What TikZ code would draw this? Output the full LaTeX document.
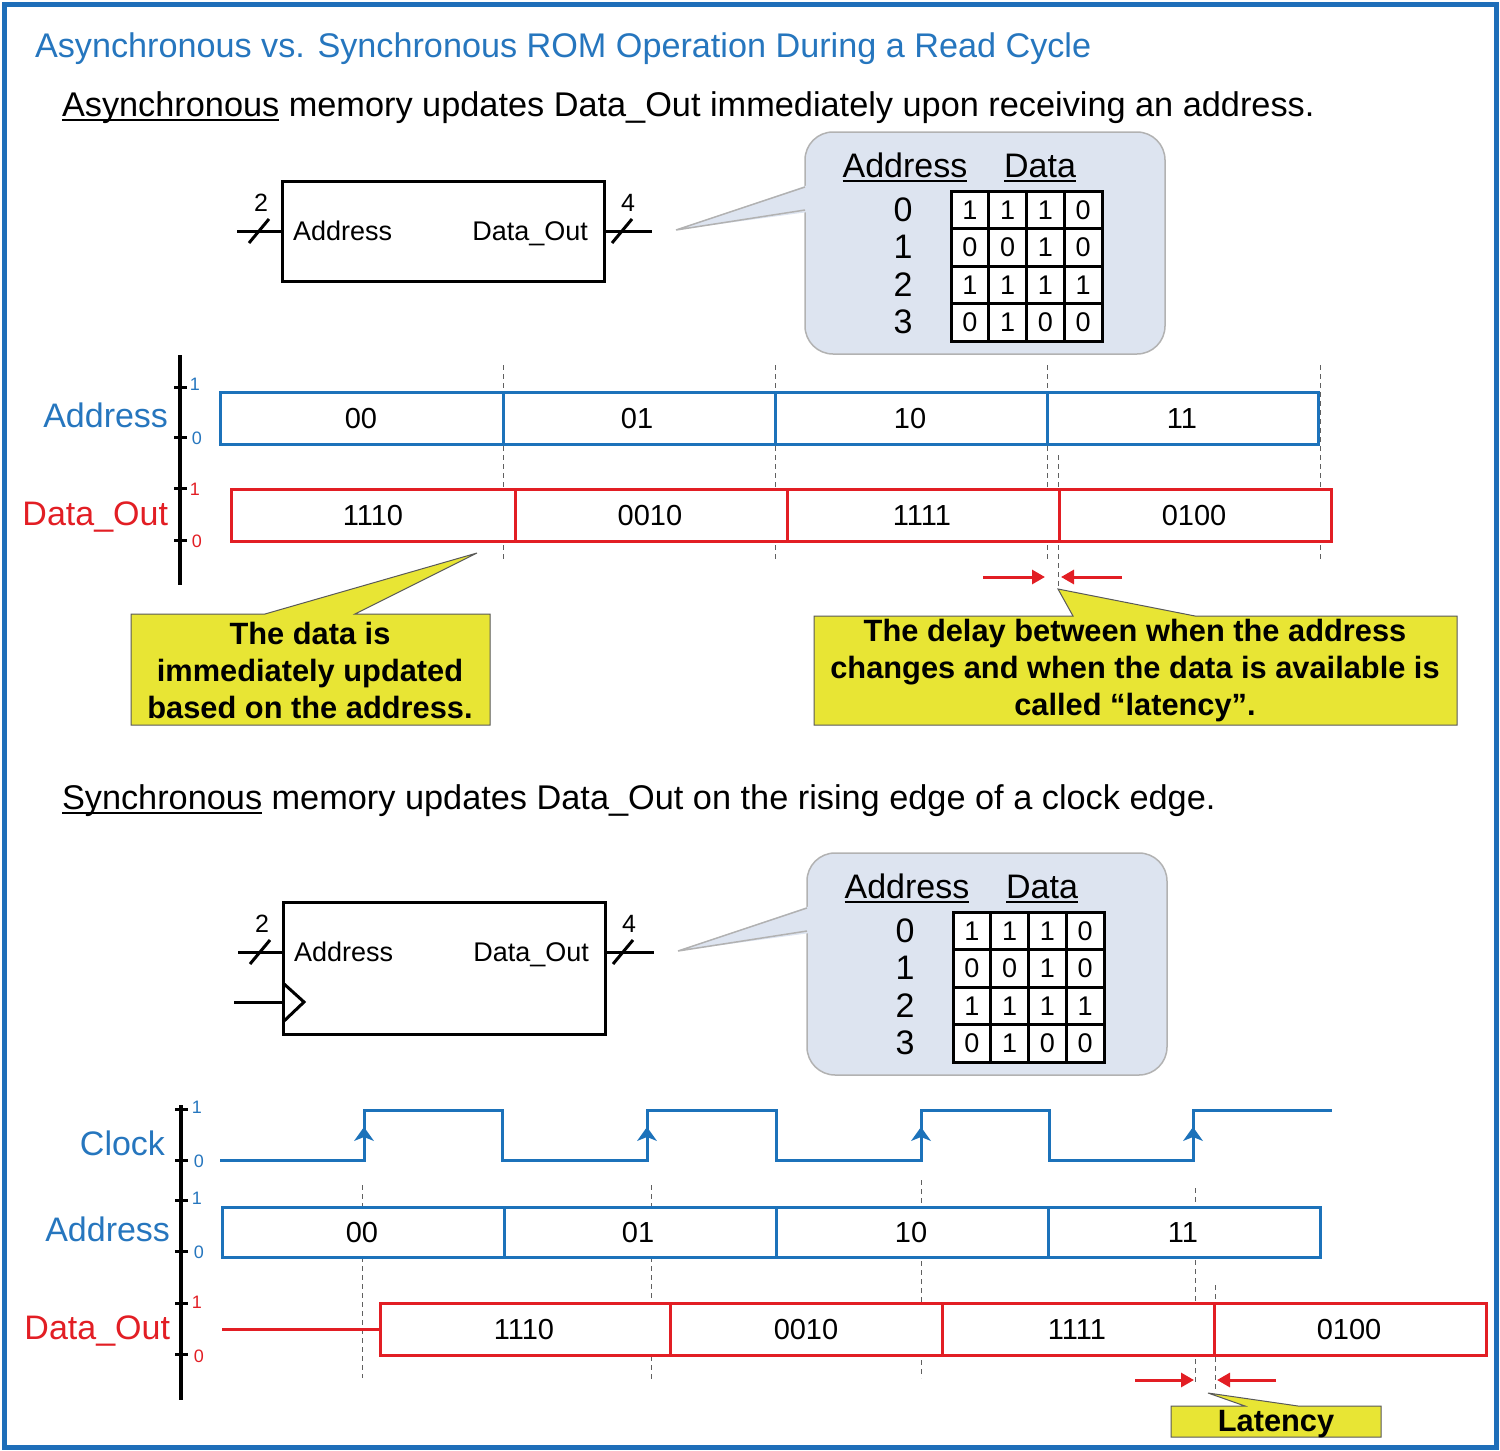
\documentclass[tikz,border=0pt]{standalone}
\usepackage{fontspec}
\setmainfont{Liberation Sans}
\usetikzlibrary{arrows.meta}
\definecolor{tblue}{RGB}{38,118,190}
\definecolor{lblue}{RGB}{28,114,186}
\definecolor{tred}{RGB}{226,30,36}
\definecolor{cyel}{RGB}{232,229,52}
\definecolor{cbub}{RGB}{221,228,240}
\definecolor{frameblue}{RGB}{30,110,185}
\newcommand{\fs}[2]{\fontsize{#1}{#2}\selectfont}
\newcommand{\myul}[1]{\setbox0\hbox{#1}\rlap{\rule[-5pt]{\wd0}{2.2pt}}\box0\relax}
\newcommand{\romtable}[1]{%
  \node[bubble, minimum width=360pt, minimum height=222pt] (bub#1) at (985,243) {};
  \fill[cbub] (676,230) -- (808,185) -- (808,212) -- cycle;
  \draw[draw=gray!60, line width=1.5pt] (805,187) -- (676,230) -- (805,210);
  \node[anchor=base, font=\fs{34}{40}] (hA#1) at (905,177) {\myul{Address}};
  \node[anchor=base, font=\fs{34}{40}] (hD#1) at (1040,177) {\myul{Data}};
  \filldraw[fill=white, line width=3pt] (951,191) rectangle (1102,341);
  \foreach \i in {1,2,3} {
    \draw[line width=3pt] (951+37.75*\i,191) -- (951+37.75*\i,341);
    \draw[line width=3pt] (951,191+37.5*\i) -- (1102,191+37.5*\i);
  }
  \foreach \r/\a/\b/\c/\d in {0/1/1/1/0,1/0/0/1/0,2/1/1/1/1,3/0/1/0/0} {
    \node[font=\fs{34}{40}] (row#1\r) at (903,209.75+37.5*\r) {\r};
    \node[font=\fs{27}{30}] (c#1\r a) at (969.9,209.75+37.5*\r) {\a};
    \node[font=\fs{27}{30}] (c#1\r b) at (1007.6,209.75+37.5*\r) {\b};
    \node[font=\fs{27}{30}] (c#1\r c) at (1045.4,209.75+37.5*\r) {\c};
    \node[font=\fs{27}{30}] (c#1\r d) at (1083.1,209.75+37.5*\r) {\d};
  }
}
\begin{document}
\begin{tikzpicture}[x=1pt,y=-1pt,
  every node/.style={inner sep=0pt, outer sep=0pt},
  bubble/.style={rectangle, rounded corners=28pt, fill=cbub, draw=gray!60, line width=1.5pt},
  romblk/.style={rectangle, draw, line width=3pt},
  wire/.style={line width=3pt},
  blk/.style={font=\fs{27}{32}},
  sig/.style={font=\fs{34}{38}},
  val/.style={font=\fs{29}{34}, anchor=base},
  busA/.style={draw=lblue, fill=white, line width=3pt},
  busD/.style={draw=tred, fill=white, line width=3pt},
  vline/.style={draw=gray!75!black, line width=0.9pt, dash pattern=on 5pt off 4pt},
  axis/.style={line width=3.5pt},
  tick/.style={line width=3pt},
  tk/.style={font=\fs{18}{20}},
  note/.style={fill=cyel, draw=gray!70!black, line width=1pt},
  cal/.style={font=\bfseries\fs{30.8}{37}, align=center},
  redarrow/.style={draw=tred, line width=3pt, -{Triangle[length=13pt,width=14pt]}}
]
\useasboundingbox (0,0) rectangle (1500,1451);
\draw[frameblue, line width=5pt] (4,4) rectangle (1496,1447);

% titles
\node[anchor=base west, text=tblue, font=\fs{34.2}{40}] (title) at (35,57)
  {Asynchronous vs. Synchronous ROM Operation During a Read Cycle};
\node[anchor=base west, font=\fs{34.3}{40}] (sub1) at (62,116)
  {\myul{Asynchronous} memory updates Data\_Out immediately upon receiving an address.};

% ---------- asynchronous ROM block
\node[romblk, minimum width=322pt, minimum height=100pt] (rom1) at (443,231) {};
\coordinate (in1) at (237,231);
\coordinate (out1) at (652,231);
\draw[wire] (in1) -- (rom1.west);
\draw[wire] (rom1.east) -- (out1);
\draw[wire] (249,243) -- (269,219);
\draw[wire] (612,243) -- (632,219);
\node[font=\fs{25}{28}] (n2a) at (261,203) {2};
\node[font=\fs{25}{28}] (n4a) at (628,203) {4};
\node[blk, anchor=base west] (ad1) at (293,240) {Address};
\node[blk, anchor=base east] (do1) at (588,240) {Data\_Out};

\romtable{A}

% ---------- asynchronous timing
\draw[axis] (180,355) -- (180,585);
\foreach \y in {387,437,488,540} \draw[tick] (174,\y) -- (187,\y);
\node[tk, text=tblue] (t1a) at (195,384) {1};
\node[tk, text=tblue] (t0a) at (197,438) {0};
\node[tk, text=tred] (t1b) at (195,489) {1};
\node[tk, text=tred] (t0b) at (197,541) {0};
\node[sig, anchor=base east, text=tblue] (lAddr1) at (168,427) {Address};
\node[sig, anchor=base east, text=tred] (lData1) at (168,525) {Data\_Out};

\foreach \x in {503,775,1047,1320} \draw[vline] (\x,365) -- (\x,562);
\draw[vline] (1058,455) -- (1058,590);

\draw[busA] (220,392) rectangle (1318,444);
\foreach \x in {503,775,1047} \draw[busA] (\x,392) -- (\x,444);
\node[val] (av1) at (361,428) {00};
\node[val] (av2) at (637,428) {01};
\node[val] (av3) at (910,428) {10};
\node[val] (av4) at (1182,428) {11};

\draw[busD] (231,489) rectangle (1331,541);
\foreach \x in {515,787,1059} \draw[busD] (\x,489) -- (\x,541);
\node[val] (dv1) at (373,525.5) {1110};
\node[val] (dv2) at (650,525.5) {0010};
\node[val] (dv3) at (922,525.5) {1111};
\node[val] (dv4) at (1194,525.5) {0100};

\draw[redarrow] (983,577) -- (1045,577);
\draw[redarrow] (1122,577) -- (1061,577);

\filldraw[note] (131,614) -- (265,614) -- (477,553) -- (355,614) -- (490,614) -- (490,725) -- (131,725) -- cycle;
\node[cal] (note1) at (310,670) {The data is\\immediately updated\\based on the address.};

\filldraw[note] (814,616) -- (1073,616) -- (1058,589) -- (1195,616) -- (1457,616) -- (1457,725) -- (814,725) -- cycle;
\node[cal] (note2) at (1135,671) {The delay between when the address\\changes and when the data is available is\\called “latency”.};

% ---------- synchronous
\node[anchor=base west, font=\fs{34.3}{40}] (sub2) at (62,809)
  {\myul{Synchronous} memory updates Data\_Out on the rising edge of a clock edge.};

\node[romblk, minimum width=322pt, minimum height=132pt] (rom2) at (444,968) {};
\coordinate (in2) at (238,952);
\coordinate (out2) at (654,952);
\coordinate (clk2) at (234,1002);
\draw[wire] (in2) -- (in2 -| rom2.west);
\draw[wire] (out2 -| rom2.east) -- (out2);
\draw[wire] (clk2) -- (clk2 -| rom2.west);
\draw[wire, line join=miter] (283,983) -- (304,1002) -- (283,1022);
\draw[wire] (250,964) -- (270,940);
\draw[wire] (613,964) -- (633,940);
\node[font=\fs{25}{28}] (n2b) at (262,924) {2};
\node[font=\fs{25}{28}] (n4b) at (629,924) {4};
\node[blk, anchor=base west] (ad2) at (294,961) {Address};
\node[blk, anchor=base east] (do2) at (589,961) {Data\_Out};

\begin{scope}[shift={(2,721)}]
\romtable{B}
\end{scope}

% ---------- synchronous timing
\draw[axis] (181,1105) -- (181,1400);
\foreach \y in {1109,1160,1200,1251,1303,1354} \draw[tick] (175,\y) -- (188,\y);
\node[tk, text=tblue] (t1c) at (197,1107) {1};
\node[tk, text=tblue] (t0c) at (199,1161) {0};
\node[tk, text=tblue] (t1d) at (197,1198) {1};
\node[tk, text=tblue] (t0d) at (199,1252) {0};
\node[tk, text=tred] (t1e) at (197,1302) {1};
\node[tk, text=tred] (t0e) at (199,1356) {0};
\node[sig, anchor=base east, text=tblue] (lClk) at (165,1155) {Clock};
\node[sig, anchor=base east, text=tblue] (lAddr2) at (170,1241) {Address};
\node[sig, anchor=base east, text=tred] (lData2) at (170,1339) {Data\_Out};

\draw[vline] (362,1185) -- (362,1378);
\draw[vline] (651,1185) -- (651,1380);
\draw[vline] (921,1180) -- (921,1378);
\draw[vline] (1195,1188) -- (1195,1385);
\draw[vline] (1215,1285) -- (1215,1390);

\draw[lblue, line width=3pt] (220,1160) -- (364,1160) -- (364,1110) -- (502,1110) -- (502,1160)
  -- (647,1160) -- (647,1110) -- (776,1110) -- (776,1160) -- (921,1160) -- (921,1110)
  -- (1049,1110) -- (1049,1160) -- (1193,1160) -- (1193,1110) -- (1332,1110);
\foreach \x in {364,647,921,1193} \fill[lblue] (\x-10,1141) -- (\x,1127) -- (\x+10,1141) -- (\x,1137) -- cycle;

\draw[busA] (222,1207) rectangle (1320,1257);
\foreach \x in {504,776,1048} \draw[busA] (\x,1207) -- (\x,1257);
\node[val] (bv1) at (362,1242) {00};
\node[val] (bv2) at (638,1242) {01};
\node[val] (bv3) at (911,1242) {10};
\node[val] (bv4) at (1183,1242) {11};

\draw[busD] (222,1329) -- (380,1329);
\draw[busD] (380,1303) rectangle (1486,1355);
\foreach \x in {670,942,1214} \draw[busD] (\x,1303) -- (\x,1355);
\node[val] (ev1) at (524,1339.5) {1110};
\node[val] (ev2) at (806,1339.5) {0010};
\node[val] (ev3) at (1077,1339.5) {1111};
\node[val] (ev4) at (1349,1339.5) {0100};

\draw[redarrow] (1135,1380) -- (1194,1380);
\draw[redarrow] (1276,1380) -- (1217,1380);

\filldraw[note] (1171,1406) -- (1245,1406) -- (1208,1393) -- (1298,1406) -- (1381,1406) -- (1381,1437) -- (1171,1437) -- cycle;
\node[cal, anchor=base] (lat) at (1276,1431) {Latency};
\end{tikzpicture}
\end{document}
